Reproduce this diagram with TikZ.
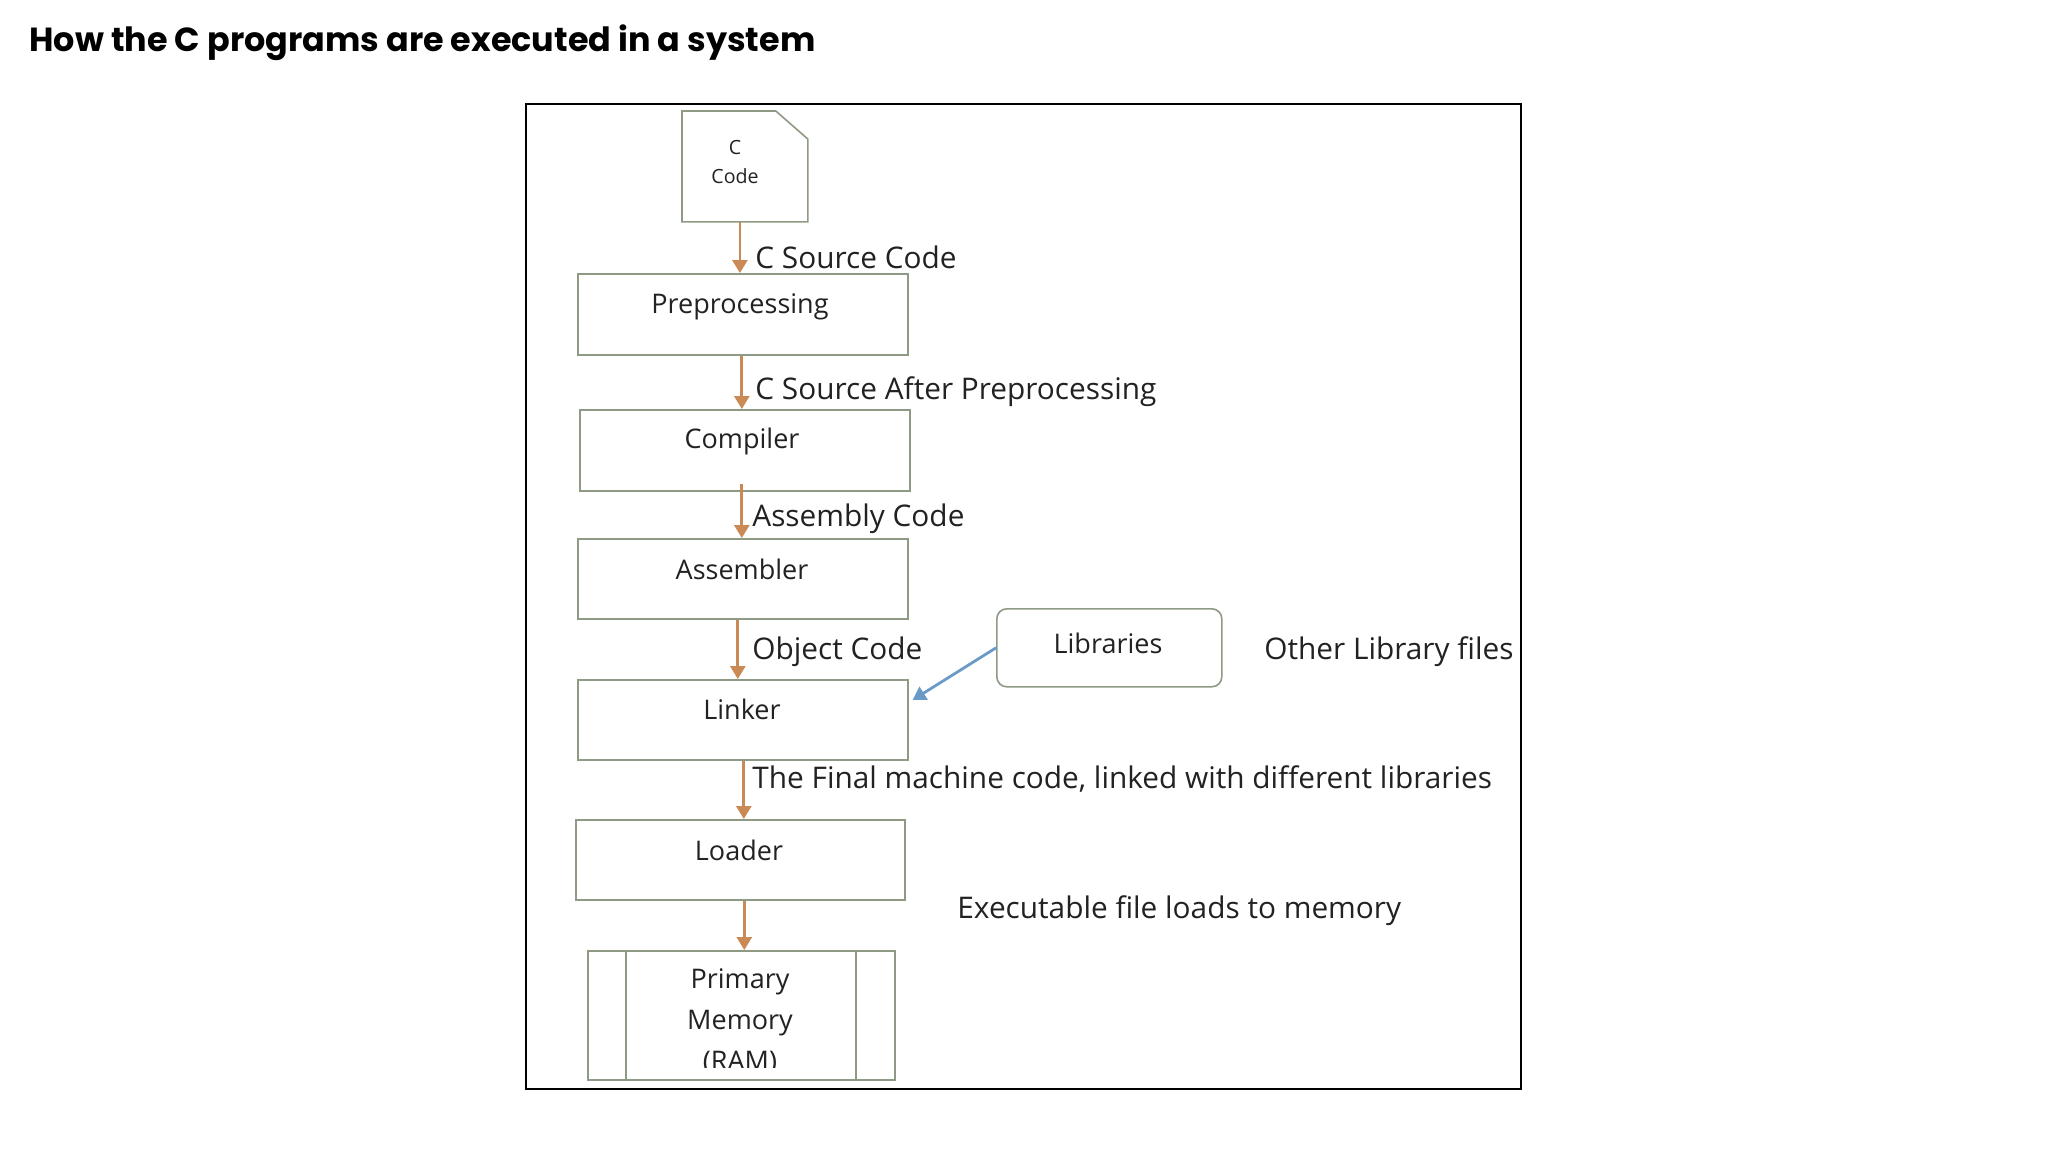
\documentclass[tikz,border=0pt]{standalone}
\usepackage{fontspec}
\setmainfont{Open Sans}
\newfontfamily\titlefont{Poppins}
\usetikzlibrary{arrows.meta}
\definecolor{boxc}{HTML}{8E9A84}
\definecolor{arrc}{HTML}{C98A55}
\definecolor{bluec}{HTML}{6A9BC7}
\definecolor{txtc}{HTML}{222222}
\begin{document}
\begin{tikzpicture}[x=0.5pt,y=-0.5pt,
  stagebox/.style={draw=boxc, line width=0.8pt, rectangle, inner sep=0pt, anchor=north west,
    minimum width=165pt, minimum height=40.5pt},
  boxtext/.style={font=\fontsize{13.5}{15}\selectfont, text=txtc},
  flowlabel/.style={anchor=west, inner sep=0pt, font=\fontsize{14.9}{17}\selectfont, text=txtc},
  flowarrow/.style={draw=arrc, line width=1.4pt, -{Triangle[width=7.5pt,length=6.5pt]}},
  libarrow/.style={draw=bluec, line width=1.4pt, -{Triangle[width=7.5pt,length=6.5pt]}}]
\useasboundingbox (0,0) rectangle (2048,1152);
\fill[white] (0,0) rectangle (2048,1152);

% title
\node[anchor=west, inner sep=0pt, font=\titlefont\bfseries\fontsize{16.7}{20}\selectfont] (title) at (29,43) {How the C programs are executed in a system};

% frame
\draw[black, line width=1.2pt] (526,104) rectangle (1521,1089);

% C code document
\node[inner sep=0pt, anchor=north west, minimum width=62.5pt, minimum height=55pt] (doc) at (682,111) {};
\draw[boxc, line width=0.8pt] (doc.north west) -- ([xshift=-16pt]doc.north east) -- ([yshift=-14pt]doc.north east) -- (doc.south east) -- (doc.south west) -- cycle;
\node[align=center, font=\fontsize{9.8}{14.5}\selectfont, text=txtc, inner sep=0pt] (doctext) at (735,162) {C\\Code};

% stage boxes
\node[stagebox] (pre) at (577,273) {};
\node[boxtext] (pretext) at (740,307) {Preprocessing};
\node[stagebox] (comp) at (579,409) {};
\node[boxtext] (comptext) at (742,441) {Compiler};
\node[stagebox, minimum height=40pt] (asm) at (577,538) {};
\node[boxtext] (asmtext) at (742,569) {Assembler};
\node[stagebox, minimum height=40pt] (lnk) at (577,679) {};
\node[boxtext] (lnktext) at (742,709) {Linker};
\node[stagebox, minimum width=164.5pt, minimum height=40pt] (load) at (575,819) {};
\node[boxtext] (loadtext) at (739,850) {Loader};

% primary memory
\node[stagebox, minimum width=153.5pt, minimum height=64.5pt] (mem) at (587,950) {};
\draw[boxc, line width=0.8pt] (626,950) -- (626,1079);
\draw[boxc, line width=0.8pt] (856,950) -- (856,1079);
\begin{scope}
\clip (627,951) rectangle (855,1067);
\node[boxtext, align=center, font=\fontsize{13.5}{20.5}\selectfont] (memtext) at (740,1022) {Primary\\Memory\\(RAM)};
\end{scope}

% libraries
\node[draw=boxc, line width=0.8pt, rounded corners=5pt, inner sep=0pt, anchor=north west,
  minimum width=112.5pt, minimum height=39pt] (lib) at (996,608) {};
\node[boxtext] (libtext) at (1108,643) {Libraries};

% flow arrows
\draw[flowarrow] ([xshift=-2.5pt]doc.south) -- ([xshift=-2.5pt]doc.south |- pre.north);
\draw[flowarrow] ([xshift=-0.5pt]pre.south) -- ([xshift=-0.5pt]pre.south |- comp.north);
\draw[flowarrow] ([xshift=-1.5pt,yshift=4pt]comp.south) -- ([xshift=-1.5pt]comp.south |- asm.north);
\draw[flowarrow] ([xshift=-2.5pt]asm.south) -- ([xshift=-2.5pt]asm.south |- lnk.north);
\draw[flowarrow] ([xshift=0.5pt]lnk.south) -- ([xshift=0.5pt]lnk.south |- load.north);
\draw[flowarrow] ([xshift=2pt]load.south) -- ([xshift=2pt]load.south |- mem.north);
\draw[libarrow] (lib.west) -- ([xshift=2pt,yshift=-10.5pt]lnk.north east);

% labels
\node[flowlabel] (l1) at (755,257) {C Source Code};
\node[flowlabel] (l2) at (755,392) {C Source After Preprocessing};
\node[flowlabel] (l3) at (752,519) {Assembly Code};
\node[flowlabel] (l4) at (752,652) {Object Code};
\node[flowlabel] (l5) at (1264,652) {Other Library files};
\node[flowlabel] (l6) at (752,779) {The Final machine code, linked with different libraries};
\node[flowlabel] (l7) at (957,911) {Executable file loads to memory};
\end{tikzpicture}
\end{document}
